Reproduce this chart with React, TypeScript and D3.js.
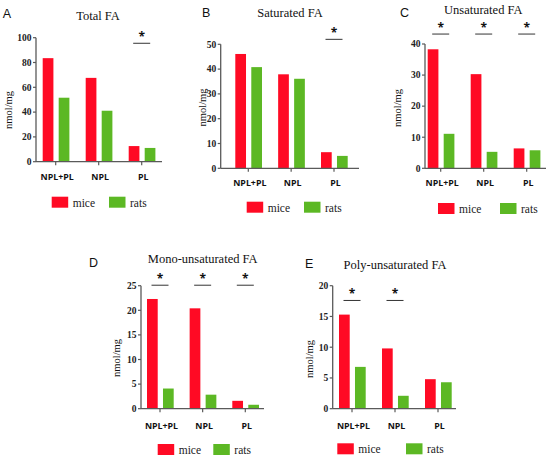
import React from 'react';
import * as d3 from 'd3';

const categories = ['NPL+PL', 'NPL', 'PL'];
const seriesNames = ['mice', 'rats'];
const panelLetters = ['A', 'B', 'C', 'D', 'E'];
const panelTitles = ['Total FA', 'Saturated FA', 'Unsaturated FA', 'Mono-unsaturated FA', 'Poly-unsaturated FA'];

const miceTotal = [83.5, 67.6, 12.6];
const ratsTotal = [51.6, 41.1, 11.1];
const miceSaturated = [46.1, 37.9, 6.5];
const ratsSaturated = [40.8, 36.1, 5.0];
const miceUnsaturated = [38.3, 30.3, 6.4];
const ratsUnsaturated = [11.1, 5.3, 5.8];
const miceMono = [22.3, 20.4, 1.6];
const ratsMono = [4.1, 2.85, 0.8];
const micePoly = [15.3, 9.8, 4.8];
const ratsPoly = [6.8, 2.1, 4.3];

const yMaxes = [100, 50, 40, 25, 20];
const yTickSteps = [20, 10, 10, 5, 5];

// indices of categories marked with a star, and the height of the bracket
const sigTotal = [2];
const sigSaturated = [2];
const sigUnsaturated = [0, 1, 2];
const sigMono = [0, 1, 2];
const sigPoly = [0, 1];
const sigLevels = [95.5, 52, 43.2, 25.1, 17.6];

const colors = { mice: '#ff0a24', rats: '#5cb824' };

interface Layout {
  x0: number; yTop: number; y0: number; xEnd: number;
  c0: number; c2: number;
  titleX: number; titleY: number;
  letterX: number; letterY: number;
  yLabelX: number; yLabelY: number;
  catY: number;
  legY: number; legMice: number; legRats: number;
}

const layouts: Layout[] = [
  { x0: 36, yTop: 37.7, y0: 161.7, xEnd: 162, c0: 55.7, c2: 141.7, titleX: 98, titleY: 20, letterX: 2.7, letterY: 18.3, yLabelX: 8, yLabelY: 110, catY: 180, legY: 196.7, legMice: 51.7, legRats: 109 },
  { x0: 220.7, yTop: 44.3, y0: 168.3, xEnd: 359, c0: 248.3, c2: 334, titleX: 290, titleY: 17.3, letterX: 202, letterY: 16.7, yLabelX: 202.5, yLabelY: 107.5, catY: 185.7, legY: 201.7, legMice: 246.7, legRats: 304 },
  { x0: 425, yTop: 44, y0: 168.3, xEnd: 546, c0: 440.7, c2: 526.7, titleX: 483.3, titleY: 14, letterX: 400, letterY: 17.3, yLabelX: 397, yLabelY: 108, catY: 185.7, legY: 203, legMice: 438, legRats: 500 },
  { x0: 141, yTop: 285.7, y0: 408.7, xEnd: 264, c0: 160, c2: 245.3, titleX: 202.7, titleY: 263.3, letterX: 89, letterY: 267.3, yLabelX: 116, yLabelY: 358, catY: 429, legY: 444, legMice: 157.7, legRats: 213.3 },
  { x0: 332.7, yTop: 285.7, y0: 408.7, xEnd: 456, c0: 352, c2: 438, titleX: 395, titleY: 269, letterX: 305, letterY: 268.3, yLabelX: 309, yLabelY: 359, catY: 429, legY: 443.3, legMice: 337.3, legRats: 406 },
];

const miceSeries = [miceTotal, miceSaturated, miceUnsaturated, miceMono, micePoly];
const ratsSeries = [ratsTotal, ratsSaturated, ratsUnsaturated, ratsMono, ratsPoly];
const sigSeries = [sigTotal, sigSaturated, sigUnsaturated, sigMono, sigPoly];

const serif = '"Liberation Serif", "DejaVu Serif", serif';
const sans = '"Open Sans", "DejaVu Sans", sans-serif';
const axisColor = '#5a5a5a';

const Panel: React.FC<{ i: number }> = ({ i }) => {
  const L = layouts[i];
  const y = d3.scaleLinear().domain([0, yMaxes[i]]).range([L.y0, L.yTop]);
  const x = d3.scalePoint<string>().domain(categories).range([L.c0, L.c2]);
  const inner = d3.scaleBand<string>().domain(seriesNames).range([-13, 13.7]).paddingInner(0.33);
  const ticks = d3.range(0, yMaxes[i] + 0.001, yTickSteps[i]);
  const values: Record<string, number[]> = { mice: miceSeries[i], rats: ratsSeries[i] };
  const sigY = y(sigLevels[i]);

  return (
    <g>
      <text x={L.letterX} y={L.letterY} fontFamily='"Liberation Sans", Arial, sans-serif' fontSize={12.5} fill="#111">{panelLetters[i]}</text>
      <text x={L.titleX} y={L.titleY} textAnchor="middle" fontFamily={serif} fontSize={12.5} fill="#111">{panelTitles[i]}</text>
      <text transform={`translate(${L.yLabelX},${L.yLabelY}) rotate(-90)`} textAnchor="middle" dominantBaseline="central" fontFamily={serif} fontSize={10.5} fill="#111">nmol/mg</text>

      {categories.map((c, ci) =>
        seriesNames.map(s => (
          <rect key={c + s} x={x(c)! + inner(s)!} y={y(values[s][ci])} width={inner.bandwidth()} height={L.y0 - y(values[s][ci])} fill={colors[s as 'mice' | 'rats']} />
        ))
      )}

      {/* y axis */}
      <line x1={L.x0} x2={L.x0} y1={L.yTop} y2={L.y0} stroke={axisColor} strokeWidth={1.3} />
      {ticks.map(t => (
        <g key={t}>
          <line x1={L.x0 - 3} x2={L.x0} y1={y(t)} y2={y(t)} stroke={axisColor} strokeWidth={1.2} />
          <text x={L.x0 - 4.5} y={y(t)} dy="0.35em" textAnchor="end" fontFamily={serif} fontWeight="bold" fontSize={9.5} fill="#222">{t}</text>
        </g>
      ))}

      {/* x axis */}
      <line x1={L.x0} x2={L.xEnd} y1={L.y0} y2={L.y0} stroke={axisColor} strokeWidth={1.3} />
      {categories.map(c => (
        <g key={c}>
          <line x1={x(c)} x2={x(c)} y1={L.y0} y2={L.y0 + 3.5} stroke={axisColor} strokeWidth={1.2} />
          <text x={x(c)! + 1.5} y={L.catY} textAnchor="middle" fontFamily={sans} fontWeight="bold" fontSize={8.8} fill="#111">{c}</text>
        </g>
      ))}

      {/* significance marks */}
      {sigSeries[i].map(ci => {
        const cx = x(categories[ci])!;
        return (
          <g key={ci}>
            <line x1={cx - 8.5} x2={cx + 8.5} y1={sigY} y2={sigY} stroke="#333" strokeWidth={1} />
            <text x={cx} y={sigY - 2.5} textAnchor="middle" fontFamily={sans} fontWeight="bold" fontSize={12} fill="#111">*</text>
          </g>
        );
      })}

      {/* legend */}
      {seriesNames.map(s => {
        const lx = s === 'mice' ? L.legMice : L.legRats;
        return (
          <g key={s}>
            <rect x={lx} y={L.legY} width={16.5} height={11} fill={colors[s as 'mice' | 'rats']} />
            <text x={lx + 21} y={L.legY + 10} fontFamily={serif} fontSize={11.5} fill="#222">{s}</text>
          </g>
        );
      })}
    </g>
  );
};

export default function App() {
  return (
    <svg width={550} height={459} style={{ position: 'absolute', left: 0, top: 0, background: '#fff' }}>
      {panelLetters.map((_, i) => <Panel key={i} i={i} />)}
    </svg>
  );
}
